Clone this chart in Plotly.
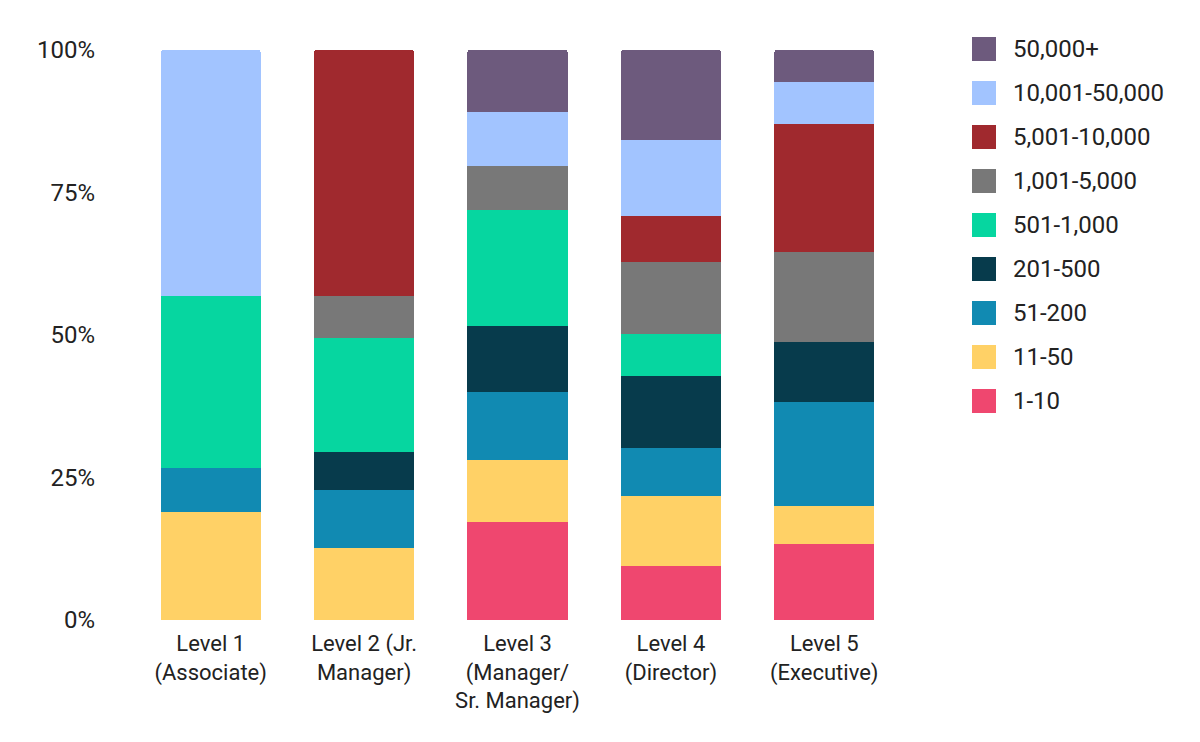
import plotly.graph_objects as go

# company size buckets, bottom of the stack first
sizes = ['1-10', '11-50', '51-200', '201-500', '501-1,000',
         '1,001-5,000', '5,001-10,000', '10,001-50,000', '50,000+']
colors = ['#EF476F', '#FFD166', '#118AB2', '#073B4C', '#06D6A0',
          '#787878', '#A0292E', '#A2C4FF', '#6D5A7D']

levels = ['Level 1<br>(Associate)', 'Level 2 (Jr.<br>Manager)',
          'Level 3<br>(Manager/<br>Sr. Manager)', 'Level 4<br>(Director)',
          'Level 5<br>(Executive)']

# share of respondents (%) per level, one list per size bucket
s_1_10 = [0, 0, 17.2, 9.5, 13.3]
s_11_50 = [18.9, 12.6, 10.9, 12.3, 6.7]
s_51_200 = [7.7, 10.2, 11.9, 8.4, 18.2]
s_201_500 = [0, 6.7, 11.6, 12.6, 10.5]
s_501_1000 = [30.2, 20.0, 20.4, 7.4, 0]
s_1001_5000 = [0, 7.4, 7.7, 12.6, 15.8]
s_5001_10000 = [0, 43.1, 0, 8.1, 22.5]
s_10001_50000 = [43.2, 0, 9.5, 13.3, 7.4]
s_50000_plus = [0, 0, 10.9, 15.8, 5.6]

values = [s_1_10, s_11_50, s_51_200, s_201_500, s_501_1000,
          s_1001_5000, s_5001_10000, s_10001_50000, s_50000_plus]

fig = go.Figure()
for name, col, vals in zip(sizes, colors, values):
    fig.add_trace(go.Bar(x=levels, y=vals, name=name,
                         marker=dict(color=col, line=dict(width=0)),
                         showlegend=False))

# page has an 8px body margin, so figure px = screen px - 8
OFF = 8
L, R, T, B = 134 - OFF, 901 - OFF, 50 - OFF, 620 - OFF


def px_x(p):
    return (p - OFF - L) / (R - L)


def px_y(p):
    return (B - (p - OFF)) / (B - T)


# legend, top bucket first
for i, (name, col) in enumerate(zip(sizes[::-1], colors[::-1])):
    cy = 49 + i * 44
    fig.add_shape(type='rect', xref='paper', yref='paper',
                  x0=px_x(972), x1=px_x(996), y0=px_y(cy + 12), y1=px_y(cy - 12),
                  fillcolor=col, line=dict(width=0))
    fig.add_annotation(x=px_x(1011), y=px_y(cy), xref='paper', yref='paper',
                       text=name, showarrow=False, xanchor='left', yanchor='middle',
                       font=dict(family='Roboto', size=24, color='#222222'))

fig.update_layout(
    barmode='stack',
    bargap=0.347,
    width=1200, height=742,
    margin=dict(l=L, r=1200 - R, t=T, b=742 - B),
    paper_bgcolor='white', plot_bgcolor='white',
    font=dict(family='Roboto', size=24, color='#222222'),
)
fig.update_traces(marker_cornerradius=3)
fig.update_xaxes(showgrid=False, showline=False, ticks='', ticklabelstandoff=8,
                 tickfont=dict(size=22))
fig.update_yaxes(range=[0, 100], tickvals=[0, 25, 50, 75, 100],
                 ticktext=['0%', '25%', '50%', '75%', '100%'],
                 showgrid=False, zeroline=False, showline=False,
                 ticklabelstandoff=38, tickfont=dict(size=24))

fig.write_html('out.html')
